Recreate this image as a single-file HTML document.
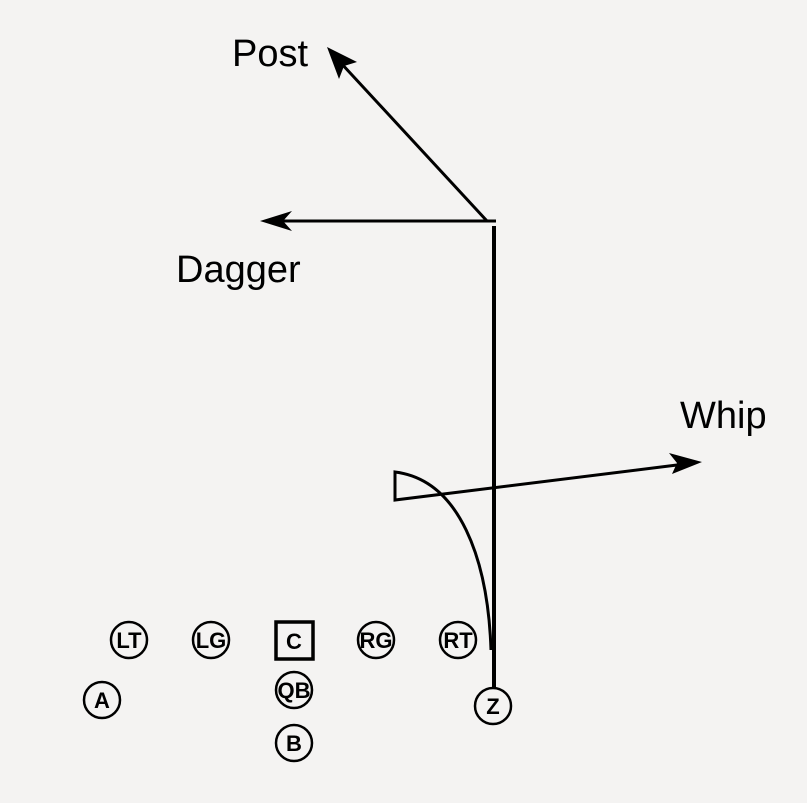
<!DOCTYPE html>
<html><head><meta charset="utf-8"><style>
html,body{margin:0;padding:0;background:#f4f3f2;}
svg{display:block}
text{font-family:"Liberation Sans",sans-serif;fill:#000}
</style></head><body>
<svg width="807" height="803" viewBox="0 0 807 803">
<rect width="807" height="803" fill="#f4f3f2"/>
<g stroke="#000" fill="none" stroke-width="3">
<line x1="494" y1="226" x2="494" y2="688" stroke-width="4"/>
<line x1="487" y1="221" x2="340" y2="62"/>
<line x1="496" y1="221" x2="275" y2="221"/>
<path d="M491,650 C488,560 460,480 395,472 L395,500 L685,464"/>
</g>
<g fill="#000">
<polygon points="327,47 357,62 344,66 339,79"/>
<polygon points="260,221 292,211 283,221 292,231"/>
<polygon points="702,462 669,453 677,463 672,474"/>
</g>
<g font-size="38">
<text x="232" y="66">Post</text>
<text x="176" y="282">Dagger</text>
<text x="680" y="428">Whip</text>
</g>
<g stroke="#000" stroke-width="2.5" fill="none">
<circle cx="129" cy="640" r="18"/>
<circle cx="211" cy="640" r="18"/>
<rect x="276" y="622" width="37" height="37" stroke-width="3.5"/>
<circle cx="376" cy="640" r="18"/>
<circle cx="458" cy="640" r="18"/>
<circle cx="102" cy="700" r="18"/>
<circle cx="294" cy="690" r="18"/>
<circle cx="294" cy="743" r="18"/>
<circle cx="493" cy="706" r="18"/>
</g>
<g font-size="22" font-weight="bold" text-anchor="middle">
<text x="129" y="648">LT</text>
<text x="211" y="648">LG</text>
<text x="294" y="649">C</text>
<text x="376" y="648">RG</text>
<text x="458" y="648">RT</text>
<text x="102" y="708">A</text>
<text x="294" y="698">QB</text>
<text x="294" y="751">B</text>
<text x="493" y="714">Z</text>
</g>
</svg>
</body></html>
